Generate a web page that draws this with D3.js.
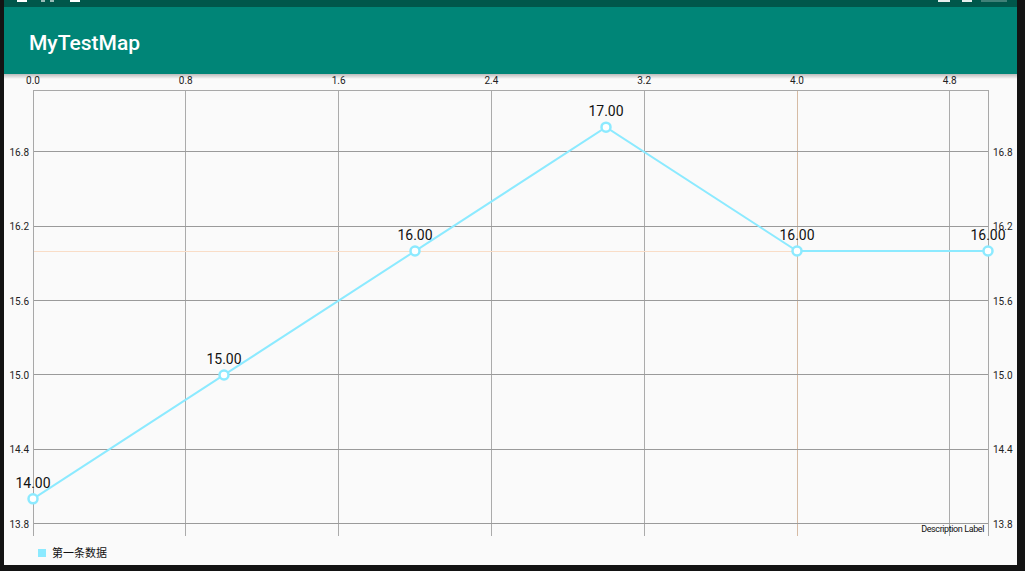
<!DOCTYPE html>
<html><head><meta charset="utf-8">
<script src="https://cdn.jsdelivr.net/npm/d3@7"></script>
<style>
html,body{margin:0;padding:0;background:#121212;}
svg{display:block;font-family:Roboto,"Noto Sans CJK SC",sans-serif;}
</style></head>
<body><svg id="c" width="1025" height="571"></svg>
<script>
const title = "MyTestMap";
const xValues = [0, 1, 2, 3, 4, 5];
const yValues = [14, 15, 16, 17, 16, 16];
const xTicks = [0, 0.8, 1.6, 2.4, 3.2, 4.0, 4.8];
const yTicks = [13.8, 14.4, 15.0, 15.6, 16.2, 16.8];
const seriesName = "第一条数据";
const limitY = 16;
const limitX = 4;
const description = "Description Label";

const svg = d3.select("#c");
// frame
svg.append("rect").attr("x",0).attr("y",0).attr("width",1025).attr("height",571).attr("fill","#131313");
svg.append("rect").attr("x",4).attr("y",0).attr("width",1013).attr("height",565).attr("fill","#FAFAFA");
// status bar & app bar
svg.append("rect").attr("x",4).attr("y",0).attr("width",1013).attr("height",7).attr("fill","#00574B");
const defs = svg.append("defs");
const g = defs.append("linearGradient").attr("id","sh").attr("x1",0).attr("y1",0).attr("x2",0).attr("y2",1);
g.append("stop").attr("offset",0).attr("stop-color","#000").attr("stop-opacity",0.25);
g.append("stop").attr("offset",1).attr("stop-color","#000").attr("stop-opacity",0);
svg.append("rect").attr("x",4).attr("y",74).attr("width",1013).attr("height",5).attr("fill","url(#sh)");
svg.append("rect").attr("x",4).attr("y",7).attr("width",1013).attr("height",67).attr("fill","#008577");
svg.append("text").attr("x",29).attr("y",50).attr("fill","#fff").attr("font-size",21).attr("font-weight",500).text(title);
// status icons (cut off at top)
[[17,10,1],[41,4,0.6],[50,4,0.6],[70,10,1],[938,12,0.9],[962,10,0.9],[981,26,0.25]].forEach(([px,w,o])=>{
  svg.append("rect").attr("x",px).attr("y",0).attr("width",w).attr("height",2).attr("fill","#fff").attr("opacity",o);
});

const L=33, R=988, T=90, B=536;
const x = d3.scaleLinear().domain([0,5]).range([L,R]);
const y = d3.scaleLinear().domain([13.7,17.3]).range([B,T]);

// vertical grid
svg.append("g").selectAll("line").data(xTicks).join("line")
  .attr("x1",d=>x(d)).attr("x2",d=>x(d)).attr("y1",T).attr("y2",B)
  .attr("stroke",d=>Math.abs(d-limitX)<1e-9?"#D6BBA4":"#ABABAB").attr("stroke-width",1).attr("shape-rendering","crispEdges");
// horizontal grid
svg.append("g").selectAll("line").data(yTicks).join("line")
  .attr("x1",L).attr("x2",R).attr("y1",d=>y(d)).attr("y2",d=>y(d))
  .attr("stroke","#9A9A9A").attr("stroke-width",1).attr("shape-rendering","crispEdges");
// limit line
svg.append("line").attr("x1",L).attr("x2",R).attr("y1",y(limitY)).attr("y2",y(limitY))
  .attr("stroke","#F9DDC7").attr("stroke-width",1).attr("shape-rendering","crispEdges");
// axis lines
svg.append("line").attr("x1",L).attr("x2",R).attr("y1",T).attr("y2",T).attr("stroke","#A8A8A8").attr("shape-rendering","crispEdges");
svg.append("line").attr("x1",L).attr("x2",L).attr("y1",T).attr("y2",B).attr("stroke","#A8A8A8").attr("shape-rendering","crispEdges");
svg.append("line").attr("x1",R).attr("x2",R).attr("y1",T).attr("y2",B).attr("stroke","#A8A8A8").attr("shape-rendering","crispEdges");

// x labels (top)
svg.append("g").selectAll("text").data(xTicks).join("text")
  .attr("x",d=>x(d)).attr("y",84).attr("text-anchor","middle").attr("font-size",10).attr("fill","#222")
  .text(d=>d.toFixed(1));
// y labels left
svg.append("g").selectAll("text").data(yTicks).join("text")
  .attr("x",29).attr("y",d=>y(d)+4).attr("text-anchor","end").attr("font-size",10).attr("fill","#222")
  .text(d=>d.toFixed(1));
// y labels right
svg.append("g").selectAll("text").data(yTicks).join("text")
  .attr("x",993).attr("y",d=>y(d)+4).attr("text-anchor","start").attr("font-size",10).attr("fill","#222")
  .text(d=>d.toFixed(1));

const data = xValues.map((v,i)=>({x:v,y:yValues[i]}));
const col = "#8CEAFF";
svg.append("path").datum(data).attr("fill","none").attr("stroke",col).attr("stroke-width",2)
  .attr("d",d3.line().x(d=>x(d.x)).y(d=>y(d.y)));
svg.append("g").selectAll("circle").data(data).join("circle")
  .attr("cx",d=>x(d.x)).attr("cy",d=>y(d.y)).attr("r",4.5)
  .attr("fill","#fff").attr("stroke",col).attr("stroke-width",2.5);
svg.append("g").selectAll("text").data(data).join("text")
  .attr("x",d=>x(d.x)).attr("y",d=>y(d.y)-11).attr("text-anchor","middle").attr("font-size",14).attr("fill","#111")
  .text(d=>d.y.toFixed(2));

// description
svg.append("text").attr("x",984).attr("y",532).attr("text-anchor","end").attr("font-size",9)
  .attr("fill","#111").attr("letter-spacing",-0.4).text(description);
// legend
svg.append("rect").attr("x",38).attr("y",549).attr("width",8).attr("height",8).attr("fill",col);
svg.append("text").attr("x",52).attr("y",557).attr("font-size",11).attr("fill","#111").text(seriesName);
</script></body></html>
